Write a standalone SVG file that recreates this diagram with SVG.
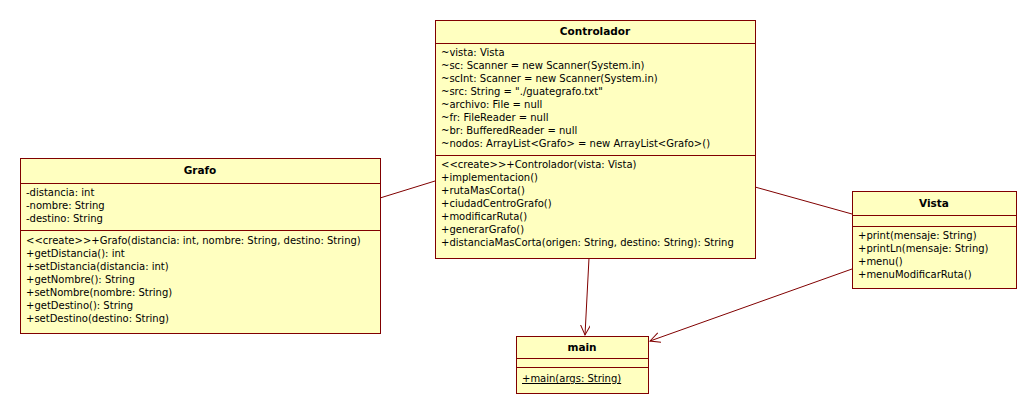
<svg xmlns="http://www.w3.org/2000/svg" width="1035" height="414" viewBox="0 0 1035 414">
<style>
.box{fill:#ffffc0;stroke:#800000;stroke-width:1}
.sep{stroke:#800000;stroke-width:1}
text{font-family:"DejaVu Sans","Liberation Sans",sans-serif;font-size:10px;fill:#000}
.t{font-weight:bold;text-anchor:middle;font-size:10.5px}
.c{stroke:#800000;stroke-width:1;fill:none}
</style>
<defs><marker id="a" markerWidth="12" markerHeight="12" refX="10" refY="5" orient="auto" markerUnits="userSpaceOnUse"><path d="M0,0 L10,5 L0,10" fill="none" stroke="#800000"/></marker></defs>
<rect width="1035" height="414" fill="#fff"/>
<g id="connectors">
<line class="c" x1="380" y1="198" x2="435" y2="181"/>
<line class="c" x1="755" y1="187" x2="852" y2="214"/>
<line class="c" x1="589" y1="258" x2="585" y2="335" marker-end="url(#a)"/>
<line class="c" x1="852" y1="269" x2="650" y2="341" marker-end="url(#a)"/>
</g>
<g id="Controlador">
<rect class="box" x="435.5" y="20.5" width="320" height="238"/>
<line class="sep" x1="435" y1="43.5" x2="756" y2="43.5"/>
<line class="sep" x1="435" y1="155.5" x2="756" y2="155.5"/>
<text class="t" x="595" y="35">Controlador</text>
<text x="441" y="56">~vista: Vista</text>
<text x="441" y="69">~sc: Scanner = new Scanner(System.in)</text>
<text x="441" y="82">~scInt: Scanner = new Scanner(System.in)</text>
<text x="441" y="95">~src: String = "./guategrafo.txt"</text>
<text x="441" y="108">~archivo: File = null</text>
<text x="441" y="121">~fr: FileReader = null</text>
<text x="441" y="134">~br: BufferedReader = null</text>
<text x="441" y="147">~nodos: ArrayList&lt;Grafo&gt; = new ArrayList&lt;Grafo&gt;()</text>
<text x="441" y="168">&lt;&lt;create&gt;&gt;+Controlador(vista: Vista)</text>
<text x="441" y="181">+implementacion()</text>
<text x="441" y="194">+rutaMasCorta()</text>
<text x="441" y="207">+ciudadCentroGrafo()</text>
<text x="441" y="220">+modificarRuta()</text>
<text x="441" y="233">+generarGrafo()</text>
<text x="441" y="246">+distanciaMasCorta(origen: String, destino: String): String</text>
</g>
<g id="Grafo">
<rect class="box" x="20.5" y="158.5" width="360" height="175"/>
<line class="sep" x1="20" y1="183.5" x2="381" y2="183.5"/>
<line class="sep" x1="20" y1="230.5" x2="381" y2="230.5"/>
<text class="t" x="200" y="174">Grafo</text>
<text x="26" y="196">-distancia: int</text>
<text x="26" y="209">-nombre: String</text>
<text x="26" y="222">-destino: String</text>
<text x="26" y="244">&lt;&lt;create&gt;&gt;+Grafo(distancia: int, nombre: String, destino: String)</text>
<text x="26" y="257">+getDistancia(): int</text>
<text x="26" y="270">+setDistancia(distancia: int)</text>
<text x="26" y="283">+getNombre(): String</text>
<text x="26" y="296">+setNombre(nombre: String)</text>
<text x="26" y="309">+getDestino(): String</text>
<text x="26" y="322">+setDestino(destino: String)</text>
</g>
<g id="Vista">
<rect class="box" x="852.5" y="191.5" width="164" height="97"/>
<line class="sep" x1="852" y1="215.5" x2="1017" y2="215.5"/>
<line class="sep" x1="852" y1="226.5" x2="1017" y2="226.5"/>
<text class="t" x="934" y="207">Vista</text>
<text x="858" y="239">+print(mensaje: String)</text>
<text x="858" y="252">+printLn(mensaje: String)</text>
<text x="858" y="265">+menu()</text>
<text x="858" y="278">+menuModificarRuta()</text>
</g>
<g id="main">
<rect class="box" x="516.5" y="336.5" width="132" height="57"/>
<line class="sep" x1="516" y1="358.5" x2="649" y2="358.5"/>
<line class="sep" x1="516" y1="367.5" x2="649" y2="367.5"/>
<text class="t" x="582" y="351">main</text>
<text x="522" y="382" text-decoration="underline">+main(args: String)</text>
</g>
</svg>
